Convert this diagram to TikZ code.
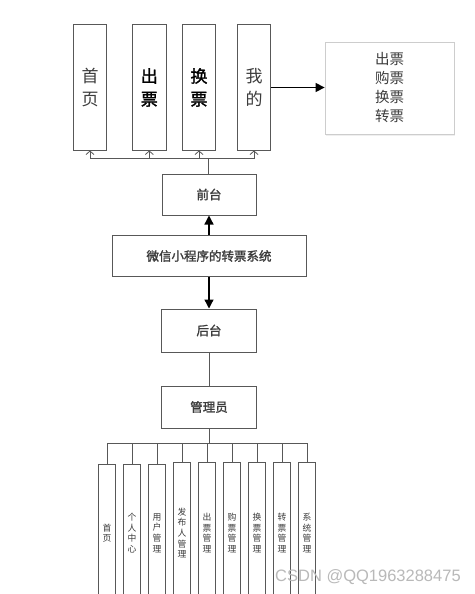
\documentclass[tikz,border=0pt]{standalone}
\usepackage{fontspec}
\newfontfamily\cjk{Noto Sans CJK SC}
\newfontfamily\cjkb[FakeBold=1.6]{Noto Sans CJK SC}
\newfontfamily\wmfont{Liberation Sans}
\usetikzlibrary{arrows.meta,shadows}
\definecolor{boxc}{RGB}{88,88,88}
\definecolor{txtc}{RGB}{60,60,60}
\definecolor{lightb}{RGB}{205,205,205}
\begin{document}
\begin{tikzpicture}[x=1pt,y=-1pt,
  box/.style={draw=boxc, line width=1pt, fill=white, inner sep=0pt},
  topbox/.style={box, minimum width=33.4pt, minimum height=125pt, align=center,
     font=\fontsize{17}{23}\selectfont},
  midbox/.style={box, minimum width=94.5pt, minimum height=42pt,
     font=\fontsize{12.5}{14}\cjkb, text=txtc},
  botbox/.style={box, line width=0.9pt, minimum width=17pt, align=center,
     font=\fontsize{8.8}{10.6}\cjk, text=txtc},
  link/.style={draw=boxc, line width=0.9pt},
  uparrow/.style={link, -{Straight Barb[length=3.5pt,width=8pt,line width=0.8pt]}},
  bigarrow/.style={draw=black, line width=1.3pt, -{Triangle[length=9pt,width=9pt]}}
]
\useasboundingbox (0,0) rectangle (474,594);
\clip (0,0) rectangle (474,594);
\fill[white] (0,0) rectangle (474,594);

% top row
\node[topbox, text=txtc] (t1) at (90,87.5) {\cjk 首\\\cjk 页};
\node[topbox, text=black] (t2) at (149.3,87.5) {\cjkb 出\\\cjkb 票};
\node[topbox, text=black] (t3) at (199,87.5) {\cjkb 换\\\cjkb 票};
\node[topbox, text=txtc] (t4) at (254,87.5) {\cjk 我\\\cjk 的};

\node[draw=lightb, line width=0.8pt, fill=white, minimum width=129pt, minimum height=92pt,
  align=center, text=txtc, font=\fontsize{14.5}{19}\cjk,
  drop shadow={opacity=0.12, shadow xshift=1pt, shadow yshift=-1.5pt}]
  (r) at (389.5,88) {出票\\购票\\换票\\转票};

\draw[bigarrow] (t4.east) -- (t4.east -| r.west);

% middle chain
\node[midbox, minimum width=94pt, minimum height=41pt] (qt) at (209,194.5) {前台};
\node[midbox, minimum width=194pt, minimum height=41pt] (wx) at (209,256) {微信小程序的转票系统};
\node[midbox, minimum height=43pt] (ht) at (209,330.5) {后台};
\node[midbox] (gly) at (209,407) {管理员};

\coordinate (busT) at (208,158);
\foreach \t in {t1,t2,t3,t4}{
  \draw[uparrow] (qt.north -| busT) -- (busT) -| (\t.south);
}

\draw[bigarrow] (wx.north) -- (qt.south);
\draw[bigarrow] (wx.south) -- (ht.north);
\draw[link] (ht.south) -- (gly.north);

% bottom row
\coordinate (busB) at (208,443);
\node[botbox, minimum height=138pt] (b1) at (107,533) {首\\页};
\node[botbox, minimum height=138pt] (b2) at (132,533) {个\\人\\中\\心};
\node[botbox, minimum height=138pt] (b3) at (157,533) {用\\户\\管\\理};
\node[botbox, minimum height=142pt] (b4) at (182,533) {发\\布\\人\\管\\理};
\node[botbox, minimum height=142pt] (b5) at (207,533) {出\\票\\管\\理};
\node[botbox, minimum height=142pt] (b6) at (232,533) {购\\票\\管\\理};
\node[botbox, minimum height=142pt] (b7) at (257,533) {换\\票\\管\\理};
\node[botbox, minimum height=142pt] (b8) at (282,533) {转\\票\\管\\理};
\node[botbox, minimum height=142pt] (b9) at (307,533) {系\\统\\管\\理};

\draw[link] (gly.south) -- (gly.south |- busB);
\foreach \b in {b1,b2,b3,b4,b5,b6,b7,b8,b9}{
  \draw[link] (gly.south |- busB) -| (\b.north);
}

% watermark
\node[anchor=west, inner sep=0pt, text=gray!55, font=\fontsize{16.5}{18}\wmfont]
  (wm) at (275,577) {CSDN @QQ1963288475};
\end{tikzpicture}
\end{document}
